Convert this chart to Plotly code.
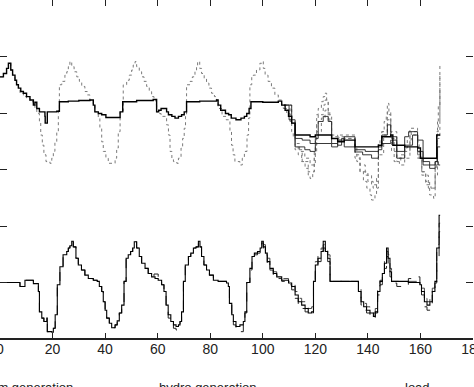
import plotly.graph_objects as go

# ---------------- data (hours 0..168, stepwise) ----------------
# upper group: thermal generation (solid = expected, dotted = scenario)
up_solid_x = [0, 1.3, 2.5, 3.2, 4.1, 4.8, 5.7, 6.3, 7.0, 7.9, 8.9, 10.1, 11.4, 12.7, 13.3, 14.0, 15.0, 17.1, 17.2, 18.0,
              21.6, 22.6, 26.0, 30.0, 34.2, 35.5, 36.1, 37.4, 38.7, 40.3, 45.0, 45.7, 46.7, 52.0, 58.3, 59.6, 60.4, 61.3,
              63.4, 64.1, 65.4, 66.6, 67.9, 69.1, 70.1, 71.0, 76.0, 82.4, 83.0, 84.0, 85.8, 87.0, 88.0, 89.8, 91.7, 93.0,
              93.9, 94.8, 95.5, 100.0, 105.9, 107.2, 108.5, 109.8, 111.0, 112.3, 118.0, 120.0, 126.2, 128.5, 131.0,
              135.1, 144.0, 145.3, 148.7, 149.5, 154.0, 159.0, 160.0, 165.6, 166.2, 167.5]
up_solid_y = [4.64, 4.70, 4.79, 4.88, 4.76, 4.67, 4.58, 4.50, 4.44, 4.38, 4.35, 4.29, 4.23, 4.14, 4.19, 4.08, 4.02, 3.94, 3.82, 4.02,
              4.03, 4.20, 4.21, 4.22, 4.23, 4.14, 4.02, 3.99, 3.97, 3.92, 3.92, 4.02, 4.20, 4.22, 4.24, 4.02, 4.05, 4.08,
              4.02, 3.97, 3.94, 3.91, 3.94, 3.97, 4.02, 4.20, 4.21, 4.23, 4.14, 4.05, 3.99, 3.97, 3.91, 3.88, 3.91, 3.94,
              3.99, 4.08, 4.20, 4.19, 4.21, 4.14, 4.05, 3.94, 3.82, 3.61, 3.58, 3.61, 3.55, 3.49, 3.52,
              3.40, 3.43, 3.58, 3.61, 3.43, 3.40, 3.38, 3.20, 3.20, 3.61, 3.61]

up_dot_x = [0, 1.3, 2.5, 3.2, 4.1, 4.8, 5.7, 6.3, 7.0, 7.6, 8.9, 10.1, 11.4, 12.7, 13.3, 14.0, 15.0, 15.5, 16.1, 16.7,
            17.5, 19.0, 19.7, 20.3, 20.9, 21.6, 22.2, 22.6, 23.5, 24.7, 25.4, 26.0, 26.6, 27.3, 28.2, 29.2, 30.2, 31.1,
            32.3, 33.2, 34.2, 35.5, 36.1, 37.4, 38.0, 38.7, 39.3, 40.3, 41.2, 43.1, 43.8, 44.4, 45.0, 45.7, 46.9, 48.2,
            49.2, 50.1, 50.7, 51.4, 52.0, 53.0, 53.9, 54.8, 55.8, 56.8, 57.7, 58.6, 59.4, 59.6, 60.4, 61.3, 63.4, 64.1,
            64.7, 65.4, 66.0, 67.3, 67.9, 68.9, 69.5, 70.1, 70.6, 71.0, 72.3, 73.2, 74.2, 74.8, 75.2, 76.0, 76.7, 77.7,
            78.6, 79.5, 80.5, 81.6, 82.4, 83.0, 84.5, 86.0, 87.5, 88.1, 88.7, 89.4, 91.3, 92.2, 93.0, 94.0, 94.6, 95.1,
            95.8, 96.4, 97.6, 98.9, 99.6, 100.2, 100.9, 102.0, 103.3, 104.6, 105.9, 107.2, 107.8, 109.1, 110.4, 111.0,
            111.6, 112.3, 113.5, 114.8, 116.1, 117.3, 118.0, 119.0, 119.6, 120.0, 120.5, 121.1, 122.3, 123.0, 123.7,
            124.3, 124.9, 125.5, 126.2, 128.5, 131.0, 135.1, 135.8, 137.0, 138.3, 139.6, 140.8, 141.4, 142.7, 143.3,
            144.0, 144.6, 145.3, 146.2, 147.0, 147.4, 148.0, 148.7, 149.0, 151.0, 152.5, 154.0, 155.0, 156.5, 158.9,
            159.5, 160.5, 162.0, 163.5, 165.0, 165.6, 166.2, 166.8, 167.4, 167.6]
up_dot_y = [4.64, 4.70, 4.79, 4.88, 4.76, 4.67, 4.58, 4.50, 4.44, 4.35, 4.29, 4.26, 4.20, 4.14, 4.08, 3.99, 3.85, 3.61, 3.43, 3.26,
            3.14, 3.11, 3.20, 3.32, 3.49, 3.67, 4.08, 4.50, 4.56, 4.67, 4.73, 4.82, 4.91, 4.82, 4.73, 4.64, 4.56, 4.47,
            4.38, 4.32, 4.23, 4.14, 4.02, 3.91, 3.73, 3.49, 3.32, 3.20, 3.11, 3.11, 3.20, 3.38, 3.67, 4.02, 4.50, 4.58,
            4.67, 4.76, 4.85, 4.91, 4.82, 4.73, 4.64, 4.56, 4.47, 4.38, 4.29, 4.23, 4.14, 4.02, 3.99, 3.94, 3.79, 3.61,
            3.32, 3.20, 3.14, 3.11, 3.20, 3.38, 3.55, 3.73, 3.97, 4.50, 4.56, 4.64, 4.73, 4.82, 4.91, 4.79, 4.70, 4.61,
            4.53, 4.44, 4.35, 4.29, 4.23, 4.08, 3.94, 3.88, 3.67, 3.43, 3.26, 3.14, 3.08, 3.20, 3.32, 3.61, 3.91, 4.50,
            4.64, 4.67, 4.76, 4.88, 4.91, 4.79, 4.67, 4.56, 4.44, 4.32, 4.23, 4.14, 4.08, 3.99, 3.85, 3.67,
            3.58, 3.40, 3.26, 3.14, 3.02, 2.90, 2.84, 2.96, 3.26, 3.61, 3.97, 4.08, 4.20, 4.29, 4.35,
            4.20, 4.05, 3.85, 3.58, 3.52, 3.55, 3.38, 3.14, 2.96, 2.79, 2.67, 2.55, 2.46, 2.55, 2.79,
            3.43, 3.52, 3.67, 3.85, 3.97, 4.17, 3.97, 3.67, 3.32, 3.14, 3.26, 3.38, 3.52, 3.67, 3.49,
            3.20, 2.96, 2.79, 2.55, 2.49, 3.02, 3.67, 4.14, 4.85, 4.85]

# upper group: further scenarios (from hour 108)
up_s2_x = [108, 110, 112.3, 115, 118, 120, 121.1, 123, 124.9, 126.2, 128.5, 130, 131, 135.1, 138, 141.4, 144, 145.3,
           147.4, 148.7, 151, 154, 157, 159, 161, 163.5, 165.6, 166.5, 167.5]
up_s2_y = [4.14, 3.88, 3.55, 3.52, 3.46, 3.55, 3.85, 3.94, 3.85, 3.46, 3.43, 3.55, 3.40, 3.31, 3.26, 3.20, 3.40, 3.61,
           3.79, 3.58, 3.32, 3.43, 3.61, 3.52, 3.14, 3.02, 3.14, 3.40, 3.40]
up_s3_x = [108, 110.4, 112.3, 114, 116, 118, 120, 120.5, 121.1, 123, 123.7, 124.9, 126.2, 128.5, 131, 135.1, 137, 139,
           141.4, 143.3, 144, 145.3, 147.4, 148.7, 151, 154, 156, 158.9, 160.5, 162, 164, 165.6, 166.5, 167.4, 167.6]
up_s3_y = [4.08, 3.85, 3.46, 3.32, 3.20, 3.08, 3.43, 3.79, 3.97, 4.14, 4.23, 3.97, 3.61, 3.58, 3.61, 3.26, 3.08, 2.90,
           2.73, 2.85, 3.46, 3.67, 4.02, 3.67, 3.20, 3.32, 3.73, 3.20, 2.96, 2.73, 2.67, 3.08, 3.85, 4.70, 4.70]
up_s4_x = [108, 111, 112.3, 116, 118, 120, 126.2, 128.5, 131, 135.1, 139, 144, 145.3, 148.7, 151, 154, 155.5, 158.9,
           161, 165.6, 166.8, 167.5]
up_s4_y = [4.14, 3.82, 3.40, 3.35, 3.32, 3.46, 3.40, 3.52, 3.58, 3.35, 3.32, 3.35, 3.46, 3.52, 3.20, 3.58, 3.67, 3.32,
           3.08, 3.14, 3.08, 3.08]
up_s5_x = [108, 111, 112.3, 115, 117.3, 119.6, 120.5, 122.3, 123.7, 124.9, 126.2, 129, 131, 135.1, 137, 140, 142, 144,
           146, 147.4, 148.7, 150, 152, 154, 156, 158.9, 160.5, 163, 165.6, 166.5, 167.4]
up_s5_y = [4.14, 3.79, 3.35, 3.14, 2.96, 3.32, 3.67, 3.91, 4.05, 3.85, 3.55, 3.61, 3.55, 3.20, 2.96, 2.79, 2.67, 3.26,
           3.61, 3.88, 3.55, 3.14, 3.08, 3.20, 3.61, 3.26, 2.90, 2.67, 2.90, 3.55, 4.40]

# lower group: hydro generation (solid = expected, dashed = scenario)
lo_solid_x = [0, 7.6, 9.5, 12.7, 14.6, 15.0, 15.9, 16.7, 17.8, 18.0, 19.7, 20.3, 21.0, 21.8, 22.8, 24.0, 25.4, 26.0,
              26.6, 27.3, 27.9, 28.9, 29.8, 31.0, 32.3, 33.6, 35.5, 37.0, 37.8, 38.7, 39.3, 40.0, 40.6, 41.6, 42.5, 43.8,
              44.6, 45.4, 46.3, 47.2, 48.0, 48.8, 49.7, 50.5, 51.1, 52.0, 53.0, 53.9, 55.2, 56.4, 57.7, 59.0, 60.2, 61.5,
              62.4, 63.2, 64.0, 65.0, 66.0, 67.0, 67.9, 68.5, 69.1, 69.8, 70.5, 71.7, 72.6, 73.6, 74.6, 75.5, 76.1, 76.7,
              77.6, 78.6, 79.7, 81.2, 83.0, 86.2, 86.9, 87.3, 88.2, 88.8, 89.8, 91.3, 92.6, 93.2, 93.9, 95.1, 95.9, 96.8,
              98.0, 99.0, 99.6, 100.2, 101.0, 101.7, 102.7, 104.0, 105.3, 107.2, 109.8, 111.0, 112.3, 113.5, 114.8,
              116.1, 117.3, 118.6, 119.3, 120.0, 121.0, 122.2, 123.0, 123.8, 124.7, 125.6, 135.7, 136.4, 137.4, 138.4,
              139.5, 140.8, 142.1, 142.8, 143.7, 144.6, 145.5, 146.3, 147.1, 147.7, 148.4, 149.0, 155.4, 159.8, 160.4,
              161.5, 162.5, 163.6, 164.5, 165.5, 166.2, 167.1, 167.5]
lo_solid_y = [1.00, 0.93, 1.04, 0.98, 0.84, 0.48, 0.37, 0.31, 0.37, 0.13, 0.12, 0.19, 0.43, 0.96, 1.28, 1.49, 1.55, 1.61,
              1.65, 1.73, 1.63, 1.43, 1.31, 1.22, 1.13, 1.07, 1.04, 1.02, 0.93, 0.84, 0.66, 0.51, 0.37, 0.28, 0.20, 0.25,
              0.32, 0.46, 0.60, 1.02, 1.43, 1.49, 1.55, 1.61, 1.72, 1.61, 1.46, 1.34, 1.25, 1.16, 1.10, 1.07, 1.04, 0.96,
              0.84, 0.60, 0.43, 0.31, 0.25, 0.22, 0.25, 0.31, 0.48, 1.02, 1.31, 1.46, 1.52, 1.61, 1.63, 1.73, 1.63, 1.46,
              1.31, 1.22, 1.13, 1.04, 1.02, 0.99, 0.93, 0.63, 0.43, 0.31, 0.22, 0.25, 0.31, 0.48, 1.00, 1.25, 1.46, 1.52,
              1.55, 1.61, 1.73, 1.63, 1.52, 1.37, 1.25, 1.16, 1.10, 1.04, 0.99, 0.93, 0.78, 0.66, 0.60,
              0.54, 0.46, 0.48, 1.02, 1.31, 1.43, 1.55, 1.73, 1.55, 1.43, 1.02, 1.02, 0.84, 0.66, 0.57,
              0.51, 0.46, 0.40, 0.48, 0.84, 1.02, 1.16, 1.34, 1.61, 1.43, 1.19, 1.02, 1.00, 0.96, 0.84,
              0.66, 0.60, 0.66, 0.84, 1.02, 1.61, 2.19, 2.19]

lo_dash_x = [0, 7.6, 9.5, 12.7, 14.6, 15.0, 15.9, 16.7, 17.8, 18.0, 19.7, 20.3, 21.0, 21.8, 22.8, 24.0, 25.4, 26.0,
             26.6, 27.3, 27.9, 28.9, 29.8, 31.0, 32.3, 33.6, 35.5, 37.0, 37.8, 38.7, 39.3, 40.0, 40.6, 41.6, 42.5, 43.8,
             44.6, 45.4, 46.3, 47.2, 48.0, 48.8, 49.7, 50.5, 51.1, 52.0, 53.0, 53.9, 55.2, 56.4, 57.7, 58.6, 60.2, 61.5,
             62.4, 63.2, 64.0, 65.0, 66.0, 67.0, 67.9, 68.5, 69.1, 69.8, 70.5, 71.7, 72.6, 73.6, 74.6, 75.5, 76.1, 76.7,
             77.6, 78.6, 79.7, 81.2, 83.0, 86.2, 86.9, 87.3, 88.2, 88.8, 89.8, 91.3, 92.6, 93.2, 93.9, 95.1, 95.9, 96.8,
             98.0, 99.0, 99.6, 100.2, 101.0, 101.7, 102.7, 104.0, 105.3, 107.2, 109.8, 111.0, 112.3, 113.5, 114.8,
             116.1, 117.3, 118.6, 119.3, 120.0, 121.0, 122.2, 123.0, 123.8, 124.7, 125.6, 135.7, 136.4, 137.4, 138.4,
             139.5, 140.8, 142.1, 142.8, 143.7, 144.6, 145.5, 146.3, 147.1, 147.7, 148.4, 149.0, 151.0, 153.0, 155.4,
             157.0, 159.8, 160.4, 161.5, 162.5, 163.6, 164.5, 165.5, 166.2, 167.1, 167.5]
lo_dash_y = [1.00, 0.93, 1.04, 0.98, 0.84, 0.48, 0.37, 0.31, 0.37, 0.13, 0.12, 0.19, 0.43, 0.96, 1.28, 1.49, 1.55, 1.61,
             1.65, 1.73, 1.63, 1.43, 1.31, 1.22, 1.13, 1.07, 1.04, 1.02, 0.93, 0.84, 0.66, 0.51, 0.37, 0.28, 0.20, 0.25,
             0.32, 0.46, 0.60, 1.02, 1.43, 1.49, 1.55, 1.61, 1.72, 1.61, 1.46, 1.34, 1.25, 1.16, 1.10, 1.15, 1.04, 0.96,
             0.84, 0.60, 0.37, 0.28, 0.19, 0.16, 0.19, 0.31, 0.48, 1.02, 1.31, 1.46, 1.52, 1.61, 1.63, 1.73, 1.63, 1.46,
             1.31, 1.22, 1.13, 1.04, 1.02, 0.99, 0.93, 0.63, 0.37, 0.25, 0.16, 0.13, 0.28, 0.46, 1.00, 1.22, 1.43, 1.49,
             1.52, 1.58, 1.70, 1.61, 1.49, 1.34, 1.22, 1.13, 1.07, 1.02, 0.96, 0.87, 0.72, 0.60, 0.54,
             0.48, 0.43, 0.46, 0.96, 1.22, 1.37, 1.46, 1.61, 1.49, 1.37, 1.02, 1.02, 0.78, 0.60, 0.51,
             0.46, 0.40, 0.37, 0.46, 0.78, 0.96, 1.10, 1.25, 1.46, 1.31, 1.10, 0.99, 0.93, 0.96, 1.07,
             1.10, 0.93, 0.78, 0.57, 0.51, 0.57, 0.78, 0.99, 1.43, 1.90, 1.90]

lo_s3_x = [100.2, 101.0, 101.7, 102.7, 104.0, 105.3, 107.2, 109.8, 111.0, 112.3, 113.5, 114.8, 116.1, 117.3, 118.6,
           119.3, 120.0, 121.0, 122.2, 123.0, 123.8, 124.7, 125.6, 135.7, 136.4, 137.4, 138.4, 139.5, 140.8, 142.1,
           142.8, 143.7, 144.6, 145.5, 146.3, 147.1, 147.7, 148.4, 149.0, 155.4, 159.8, 160.4, 161.5, 162.5, 163.6,
           164.5, 165.5, 166.2, 167.1, 167.5]
lo_s3_y = [1.67, 1.55, 1.43, 1.31, 1.19, 1.13, 1.07, 1.02, 0.96, 0.84, 0.72, 0.66, 0.60, 0.54, 0.57,
           1.04, 1.37, 1.49, 1.61, 1.67, 1.61, 1.49, 1.02, 1.02, 0.90, 0.72, 0.63, 0.57, 0.51, 0.46,
           0.54, 0.90, 1.04, 1.22, 1.40, 1.55, 1.49, 1.25, 1.02, 1.02, 0.99, 0.90, 0.72, 0.66, 0.72,
           0.90, 1.04, 1.67, 2.05, 2.05]

x_tick_vals = [0, 20, 40, 60, 80, 100, 120, 140, 160, 180]
x_tick_text = ["0", "20", "40", "60", "80", "100", "120", "140", "160", "180"]
y_tick_vals = [0, 1, 2, 3, 4, 5, 6]
bottom_labels = ["therm generation", "hydro generation", "load"]
bottom_label_x = [28.5, 79.0, 158.7]

# ---------------- figure ----------------
fig = go.Figure()

def add(x, y, color, dash, width):
    fig.add_trace(go.Scatter(x=x, y=y, mode="lines", line=dict(color=color, dash=dash, width=width, shape="hv"),
                             showlegend=False, hoverinfo="skip"))

GRAY = "#7a7a7a"
add(up_dot_x, up_dot_y, GRAY, "dot", 1)
add(up_s3_x, up_s3_y, GRAY, "dot", 1)
add(up_s5_x, up_s5_y, GRAY, "dot", 1)
add(up_s2_x, up_s2_y, "#222", "solid", 0.9)
add(up_s4_x, up_s4_y, "#222", "solid", 0.9)
add(up_solid_x, up_solid_y, "#000", "solid", 1.4)

add(lo_dash_x, lo_dash_y, "#222", "dash", 1)
add(lo_s3_x, lo_s3_y, "#333", "dash", 0.9)
add(lo_solid_x, lo_solid_y, "#000", "solid", 1.1)

fig.update_layout(
    width=474, height=387,
    margin=dict(l=0, r=1, t=0, b=48, autoexpand=False),
    paper_bgcolor="white", plot_bgcolor="white",
    font=dict(family="Liberation Sans, Arial, sans-serif", size=14, color="#222"),
    xaxis=dict(range=[0, 180], tickvals=x_tick_vals, ticktext=x_tick_text, ticks="inside", ticklen=6,
               tickcolor="#222", showline=False, showgrid=False, zeroline=False, mirror="ticks",
               automargin=False, ticklabeloverflow="allow", tickfont=dict(size=14, color="#222")),
    yaxis=dict(range=[0, 6], tickvals=y_tick_vals, ticks="inside", ticklen=7, tickcolor="#222",
               showticklabels=False, showline=False, showgrid=False, mirror="ticks", automargin=False,
               zeroline=True, zerolinecolor="#222", zerolinewidth=1.5),
)

anchors = ["right", "center", "center"]
for lab, xv, an in zip(bottom_labels, bottom_label_x, anchors):
    fig.add_annotation(text=lab, x=xv, xref="x", y=-0.115, yref="paper", yanchor="top", xanchor=an,
                       showarrow=False, font=dict(size=13, color="#222"))

fig.write_html("out.html", config={"displayModeBar": False},
               post_script="document.body.style.margin='0';document.body.style.padding='0';")
